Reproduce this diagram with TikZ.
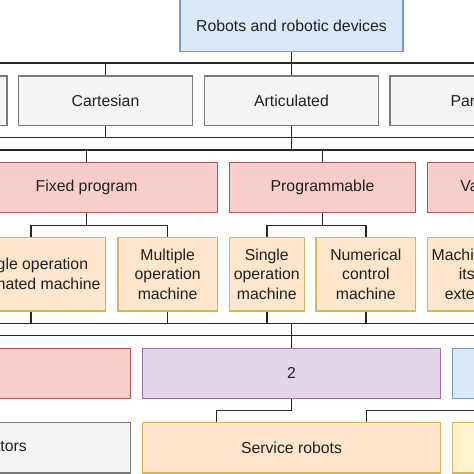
\documentclass[tikz,border=0pt]{standalone}
\usepackage{fontspec}
\setmainfont{Liberation Sans}
\usetikzlibrary{calc}
\definecolor{grayF}{HTML}{F5F5F5}\definecolor{grayD}{HTML}{7A7A7A}
\definecolor{blueF}{HTML}{DAE8FC}\definecolor{blueD}{HTML}{7C98C4}
\definecolor{redF}{HTML}{F8CECC}\definecolor{redD}{HTML}{B85450}
\definecolor{orF}{HTML}{FFE6CC}\definecolor{orD}{HTML}{D6B656}
\definecolor{puF}{HTML}{E1D5E7}\definecolor{puD}{HTML}{9673A6}
\definecolor{yeF}{HTML}{FFF2CC}\definecolor{yeD}{HTML}{D6B656}
\definecolor{wireC}{HTML}{262626}
\begin{document}
\begin{tikzpicture}[x=1pt,y=-1pt,
  box/.style={draw, line width=1.1pt, inner sep=0pt, align=center,
    font=\fontsize{15.8}{19.7}\selectfont, text=black!88},
  graybox/.style={box, fill=grayF, draw=grayD},
  bluebox/.style={box, fill=blueF, draw=blueD},
  redbox/.style={box, fill=redF, draw=redD},
  orbox/.style={box, fill=orF, draw=orD},
  pubox/.style={box, fill=puF, draw=puD},
  yebox/.style={box, fill=yeF, draw=yeD},
  wire/.style={line width=1.4pt, draw=wireC}]
\useasboundingbox (0,0) rectangle (474,474);
\clip (0,0) rectangle (474,474);
% row 1
\node[bluebox, minimum width=223pt, minimum height=51.5pt] (top) at (291.5,25.5) {Robots and robotic devices};
% row 2
\node[graybox, minimum width=174pt, minimum height=49.7pt] (r2a) at (-80,100.85) {};
\node[graybox, minimum width=174.4pt, minimum height=49.7pt] (cart) at (105.5,100.85) {Cartesian};
\node[graybox, minimum width=174pt, minimum height=49.7pt] (art) at (291.5,100.85) {Articulated};
\node[graybox, minimum width=174pt, minimum height=49.7pt] (par) at (477,100.85) {Parallel};
% row 3
\node[redbox, minimum width=261.3pt, minimum height=50.4pt] (fixed) at (86.65,187.5) {Fixed program};
\node[redbox, minimum width=186.4pt, minimum height=50.4pt] (prog) at (322.5,187.5) {Programmable};
\node[redbox, minimum width=186.4pt, minimum height=50.4pt] (var) at (520.5,187.5) {Variable program};
% row 4
\node[orbox, minimum width=149.4pt, minimum height=73.7pt] (r4a) at (31,274.15) {Single operation\\automated machine};
\node[orbox, minimum width=99.3pt, minimum height=73.7pt] (r4b) at (167.65,274.15) {Multiple\\operation\\machine};
\node[orbox, minimum width=75pt, minimum height=73.7pt] (r4c) at (266.8,274.15) {Single\\operation\\machine};
\node[orbox, minimum width=99.7pt, minimum height=73.7pt] (r4d) at (365.85,274.15) {Numerical\\control\\machine};
\node[orbox, minimum width=133.4pt, minimum height=73.7pt] (r4e) at (494,274.15) {Machine adapting\\its actions\\external world};
% row 5
\node[redbox, minimum width=298.4pt, minimum height=50pt] (red5) at (-18.45,373.3) {};
\node[pubox, minimum width=298.4pt, minimum height=50pt] (pu5) at (291.5,373.3) {2};
\node[bluebox, minimum width=298.4pt, minimum height=50pt] (blue5) at (601.5,373.3) {};
% row 6
\node[graybox, minimum width=298.4pt, minimum height=50.3pt] (gray6) at (-18.45,447.85) {Manipulators};
\node[orbox, minimum width=298.4pt, minimum height=50.3pt] (serv) at (291.5,447.85) {Service robots};
\node[yebox, minimum width=298.4pt, minimum height=50.3pt] (ye6) at (601.5,447.85) {};
% buses
\coordinate (b1l) at (-10,63);    \coordinate (b1r) at (484,63);
\coordinate (b2l) at (-10,137.7); \coordinate (b2r) at (484,137.7);
\coordinate (b3l) at (-10,150);   \coordinate (b3r) at (484,150);
\coordinate (b4l) at (-10,323.3); \coordinate (b4r) at (484,323.3);
\coordinate (b5l) at (-10,335.7); \coordinate (b5r) at (484,335.7);
\foreach \a/\b in {b1l/b1r,b2l/b2r,b3l/b3r,b4l/b4r,b5l/b5r} \draw[wire] (\a) -- (\b);
% row 1 -> row 2
\draw[wire] (top.south) -- (top.south |- b1l);
\foreach \n in {r2a,cart,art,par} \draw[wire] (\n.north) -- (\n.north |- b1l);
% row 2 -> buses
\draw[wire] (cart.south) -- (cart.south |- b2l);
\draw[wire] (art.south) -- (art.south |- b3l);
% buses -> row 3
\foreach \n in {fixed,prog,var} \draw[wire] (\n.north) -- (\n.north |- b3l);
% row 3 -> row 4
\draw[wire] (fixed.south) -- ++(0,12.3) -| (r4a.north);
\draw[wire] (fixed.south) -- ++(0,12.3) -| (r4b.north);
\draw[wire] (prog.south) -- ++(0,12.3) -| (r4c.north);
\draw[wire] (prog.south) -- ++(0,12.3) -| (r4d.north);
% row 4 -> bus
\foreach \n in {r4a,r4b,r4c,r4d,r4e} \draw[wire] (\n.south) -- (\n.south |- b4l);
% bus -> row 5
\draw[wire] (pu5.north) -- (pu5.north |- b4l);
% row 5 -> row 6
\coordinate (s1) at ($(serv.north west)!0.25!(serv.north east)$);
\coordinate (s3) at ($(serv.north west)!0.75!(serv.north east)$);
\draw[wire] (pu5.south) -- ++(0,11.7) -| (s1);
\draw[wire] (blue5.south) -- ++(0,11.7) -| (s3);
\end{tikzpicture}
\end{document}
